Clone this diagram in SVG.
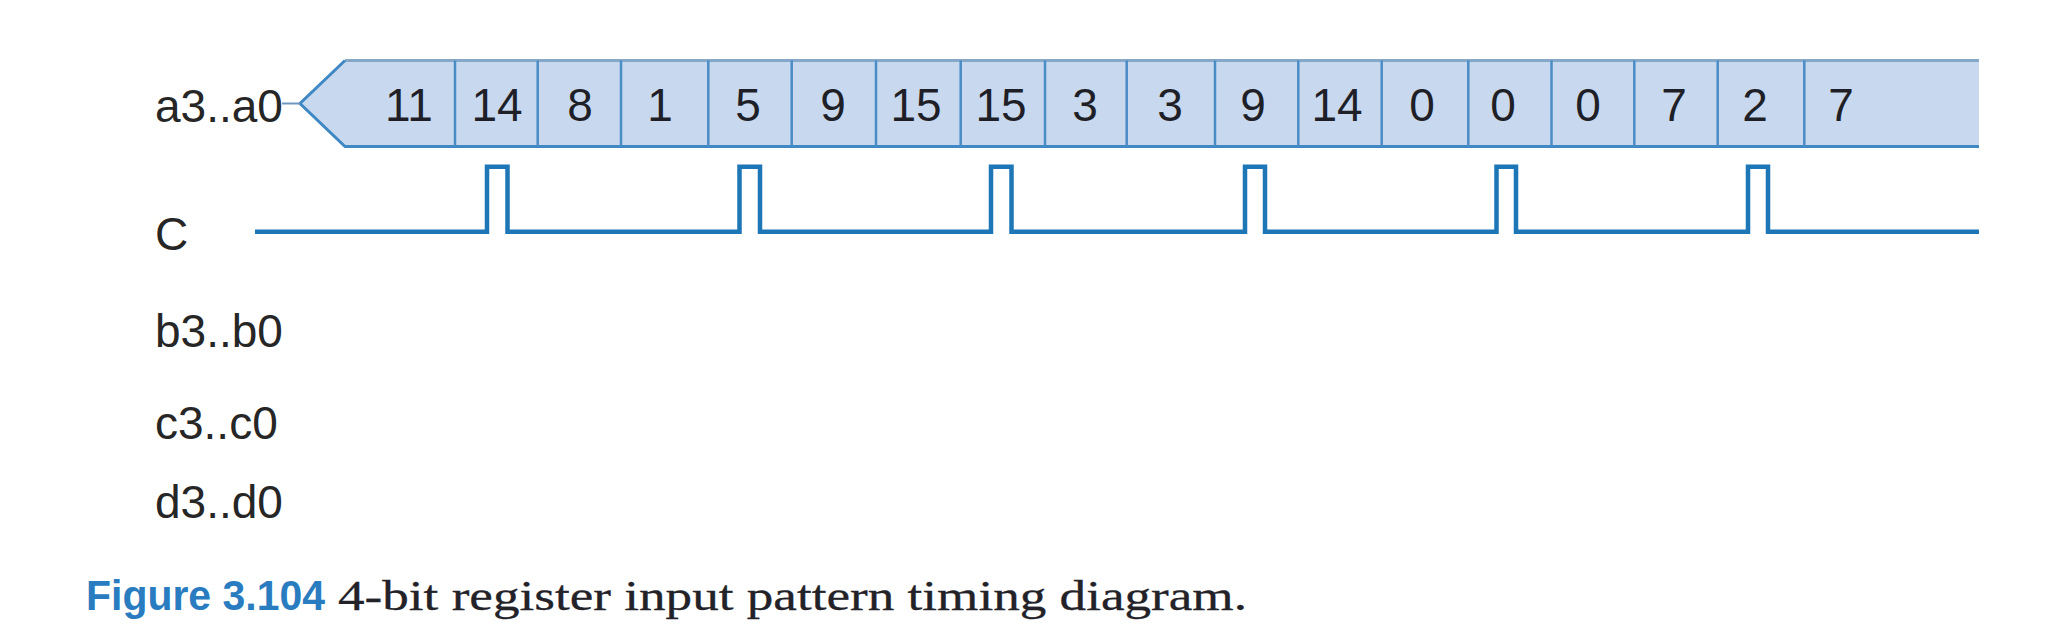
<svg xmlns="http://www.w3.org/2000/svg" width="2046" height="633" viewBox="0 0 2046 633">
<style>
.lbl{font-family:"Liberation Sans",Arial,sans-serif;font-size:46px;fill:#262626}
.val{font-family:"Liberation Sans",Arial,sans-serif;font-size:46px;fill:#1f1f28;text-anchor:middle}
.div{stroke:#4a8cc6;stroke-width:2.5}
.clk{fill:none;stroke:#1d76b6;stroke-width:4.5;stroke-linejoin:miter}
.cap1{font-family:"Liberation Sans Narrow","Liberation Sans",Arial,sans-serif;font-weight:bold;font-size:42px;fill:#2a7cc0}
.cap2{font-family:"Liberation Serif","Times New Roman",serif;font-size:43px;fill:#222228;stroke:#222228;stroke-width:0.3}
</style>
<rect width="2046" height="633" fill="#ffffff"/>
<g id="labels">
<text class="lbl" x="155" y="121.5">a3..a0</text>
<text class="lbl" x="155" y="250">C</text>
<text class="lbl" x="155" y="346.5">b3..b0</text>
<text class="lbl" x="155" y="438.5">c3..c0</text>
<text class="lbl" x="155" y="518">d3..d0</text>
</g>
<g id="bus-a">
<polygon points="345,60.5 1979,60.5 1979,146.5 345,146.5 300,103.5" fill="#c8d9ef"/>
<line x1="345" y1="60.5" x2="1979" y2="60.5" stroke="#86a8c8" stroke-width="3"/>
<polyline points="345,60.5 300,103.5 345,146.5 1979,146.5" fill="none" stroke="#3f88c4" stroke-width="3"/>
<g class="div">
<line x1="455" y1="60.5" x2="455" y2="146.5"/>
<line x1="537.7" y1="60.5" x2="537.7" y2="146.5"/>
<line x1="621" y1="60.5" x2="621" y2="146.5"/>
<line x1="708.3" y1="60.5" x2="708.3" y2="146.5"/>
<line x1="791.7" y1="60.5" x2="791.7" y2="146.5"/>
<line x1="876" y1="60.5" x2="876" y2="146.5"/>
<line x1="960.7" y1="60.5" x2="960.7" y2="146.5"/>
<line x1="1045" y1="60.5" x2="1045" y2="146.5"/>
<line x1="1126.7" y1="60.5" x2="1126.7" y2="146.5"/>
<line x1="1215" y1="60.5" x2="1215" y2="146.5"/>
<line x1="1298.3" y1="60.5" x2="1298.3" y2="146.5"/>
<line x1="1381.7" y1="60.5" x2="1381.7" y2="146.5"/>
<line x1="1468.3" y1="60.5" x2="1468.3" y2="146.5"/>
<line x1="1551.5" y1="60.5" x2="1551.5" y2="146.5"/>
<line x1="1634.3" y1="60.5" x2="1634.3" y2="146.5"/>
<line x1="1717.7" y1="60.5" x2="1717.7" y2="146.5"/>
<line x1="1804.3" y1="60.5" x2="1804.3" y2="146.5"/>
</g>
<g>
<text class="val" x="409" y="121">11</text>
<text class="val" x="497" y="121">14</text>
<text class="val" x="580" y="121">8</text>
<text class="val" x="660" y="121">1</text>
<text class="val" x="748" y="121">5</text>
<text class="val" x="833" y="121">9</text>
<text class="val" x="916" y="121">15</text>
<text class="val" x="1001" y="121">15</text>
<text class="val" x="1085" y="121">3</text>
<text class="val" x="1170" y="121">3</text>
<text class="val" x="1253" y="121">9</text>
<text class="val" x="1337" y="121">14</text>
<text class="val" x="1422" y="121">0</text>
<text class="val" x="1503" y="121">0</text>
<text class="val" x="1588" y="121">0</text>
<text class="val" x="1674" y="121">7</text>
<text class="val" x="1755" y="121">2</text>
<text class="val" x="1841" y="121">7</text>
</g>
</g>
<g id="connectors">
<line x1="282" y1="103.5" x2="300" y2="103.5" stroke="#6f98c0" stroke-width="2"/>
</g>
<g id="clock-c">
<polyline class="clk" points="255,231.7 487,231.7 487,166.7 507.5,166.7 507.5,231.7 739.5,231.7 739.5,166.7 760,166.7 760,231.7 991,231.7 991,166.7 1011.5,166.7 1011.5,231.7 1245,231.7 1245,166.7 1265,166.7 1265,231.7 1496.5,231.7 1496.5,166.7 1516,166.7 1516,231.7 1748,231.7 1748,166.7 1768,166.7 1768,231.7 1979,231.7"/>
</g>
<g id="caption">
<text class="cap1" x="86" y="610" textLength="239" lengthAdjust="spacingAndGlyphs">Figure 3.104</text>
<text class="cap2" x="338" y="610" textLength="909" lengthAdjust="spacingAndGlyphs">4-bit register input pattern timing diagram.</text>
</g>
</svg>
